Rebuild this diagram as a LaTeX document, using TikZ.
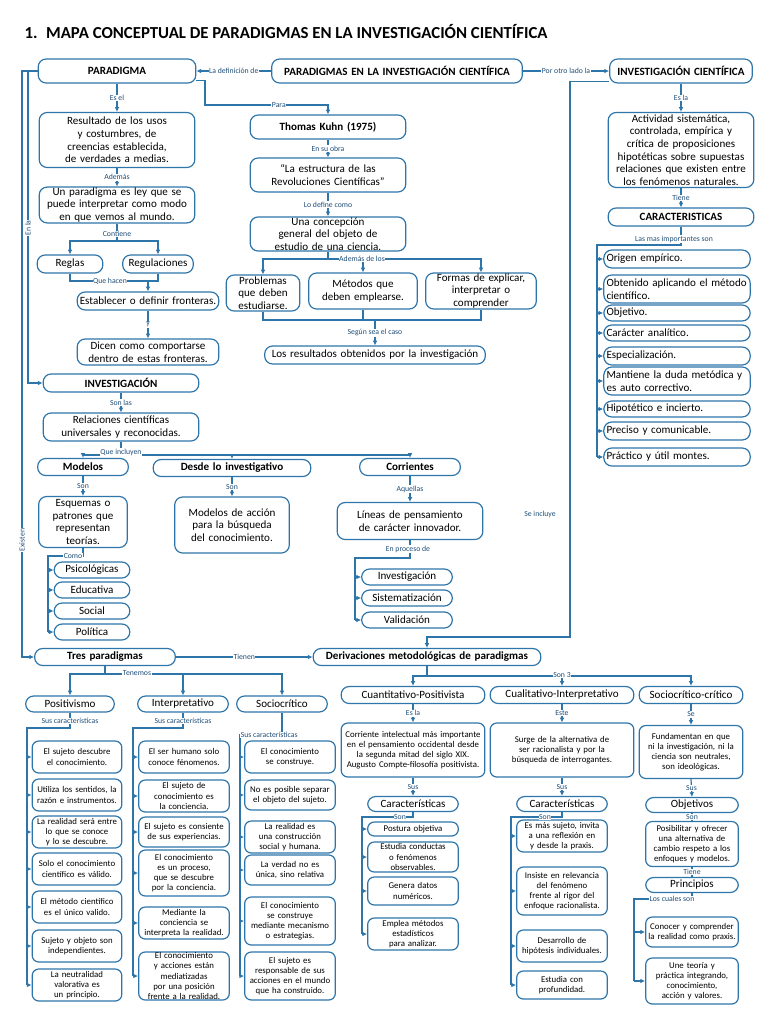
\documentclass[tikz,border=0pt]{standalone}
\usepackage{fontspec}
\setmainfont{Carlito}
\usetikzlibrary{arrows.meta}
\newlength\px \setlength\px{0.75pt}
\definecolor{bl}{RGB}{46,117,170}
\definecolor{lt}{RGB}{31,78,121}
\newcommand\nohy{\hyphenpenalty=10000\exhyphenpenalty=10000\tolerance=9999}
\begin{document}
\begin{tikzpicture}[x=\px,y=-\px,
 b/.style={draw=bl, line width=0.9pt, rounded corners=6pt, align=center, inner xsep=1pt, inner ysep=0.5pt, font=\fontsize{8.3}{9.4}\selectfont\nohy},
 s/.style={b, rounded corners=5pt, font=\fontsize{6.6}{7.6}\selectfont\nohy},
 bb/.style={b, font=\bfseries\fontsize{8.3}{9.4}\selectfont},
 lf/.style={b, align=left, inner xsep=2pt},
 lb/.style={fill=white, inner sep=0.4pt, text=lt, font=\fontsize{5.8}{6.5}\selectfont},
 ar/.style={draw=bl, line width=0.9pt, -{Latex[length=3.5pt,width=3.5pt]}},
 ln/.style={draw=bl, line width=0.9pt}]
\useasboundingbox (0,0) rectangle (768,1024);
\node[anchor=west,font=\bfseries\fontsize{12.6}{14}\selectfont] (title) at (20,32) {1.\enspace MAPA CONCEPTUAL DE PARADIGMAS EN LA INVESTIGACIÓN CIENTÍFICA};
% top row
\node[bb,text width=155\px,minimum height=24\px] (par) at (117,71) {PARADIGMA};
\node[bb,text width=248\px,minimum height=24\px] (main) at (397,71) {PARADIGMAS EN LA INVESTIGACIÓN CIENTÍFICA};
\node[bb,text width=140\px,minimum height=24\px] (ic) at (681,71) {INVESTIGACIÓN CIENTÍFICA};
% Kuhn column
\node[bb,text width=153\px,minimum height=24\px] (kuhn) at (328,127) {Thomas Kuhn (1975)};
\node[b,text width=153\px,minimum height=34\px] (est) at (328,175) {“La estructura de las\\ Revoluciones Científicas”};
\node[b,text width=153\px,minimum height=34\px] (conc) at (328,234) {Una concepción general del objeto de estudio de una ciencia.};
\node[b,text width=71\px,minimum height=36\px] (prob) at (263,293) {Problemas que deben estudiarse.};
\node[b,text width=106\px,minimum height=36\px] (met) at (363,291) {Métodos que deben emplearse.};
\node[b,text width=108\px,minimum height=36\px] (form) at (481,291) {Formas de explicar, interpretar o comprender};
\node[b,text width=218\px,minimum height=18\px] (res) at (375,355) {Los resultados obtenidos por la investigación};
% left column
\node[b,text width=153\px,minimum height=55\px] (r1) at (117,140) {Resultado de los usos y costumbres, de creencias establecida, de verdades a medias.};
\node[b,text width=153\px,minimum height=34\px] (r2) at (117,205) {Un paradigma es ley que se puede interpretar como modo en que vemos al mundo.};
\node[b,text width=63\px,minimum height=18\px] (reg) at (70,264) {Reglas};
\node[b,text width=68\px,minimum height=18\px] (regu) at (158,264) {Regulaciones};
\node[b,text width=139\px,minimum height=18\px] (est2) at (148,301) {Establecer o definir fronteras.};
\node[b,text width=139\px,minimum height=26\px] (dic) at (148,352) {Dicen como comportarse dentro de estas fronteras.};
\node[bb,text width=153\px,minimum height=18\px] (inv) at (121,383) {INVESTIGACIÓN};
\node[b,text width=153\px,minimum height=28\px] (rel) at (121,427) {Relaciones científicas universales y reconocidas.};
\node[bb,text width=88\px,minimum height=17\px] (mod) at (83,467) {Modelos};
\node[bb,text width=155\px,minimum height=17\px] (desde) at (232,468) {Desde lo investigativo};
\node[bb,text width=98\px,minimum height=17\px] (corr) at (410,467) {Corrientes};
\node[b,text width=86\px,minimum height=51\px] (esq) at (83,522) {Esquemas o patrones que representan teorías.};
\node[b,text width=112\px,minimum height=56\px] (mda) at (232,525) {Modelos de acción para la búsqueda del conocimiento.};
\node[b,text width=143\px,minimum height=37\px] (lin) at (410,521) {Líneas de pensamiento de carácter innovador.};
\foreach \n/\t/\y in {psi/Psicológicas/570, edu/Educativa/590, soc/Social/611, pol/Política/632}
  \node[b,text width=73\px,minimum height=16\px] (\n) at (92,\y) {\t};
\foreach \n/\t/\y in {inq/Investigación/577, sis/Sistematización/598, val/Validación/620}
  \node[b,text width=88\px,minimum height=16\px] (\n) at (407,\y) {\t};
% right column
\node[b,text width=143\px,minimum height=75\px] (act) at (681,150) {Actividad sistemática, controlada, empírica y crítica de proposiciones hipotéticas sobre supuestas relaciones que existen entre los fenómenos naturales.};
\node[bb,text width=143\px,minimum height=18\px] (car) at (681,217) {CARACTERISTICAS};
\foreach \n/\t/\y/\h in {c1/Origen empírico./259/18, c2/Obtenido aplicando el método científico./289/28, c3/Objetivo./313/16, c4/Carácter analítico./333/16, c5/Especialización./356/18, c6/Mantiene la duda metódica y es auto correctivo./381/28, c7/Hipotético e incierto./409/16, c8/Preciso y comunicable./431/18, c9/Práctico y útil montes./457/18}
  \node[lf,text width=141\px,minimum height=\h\px] (\n) at (677,\y) {\t};
% bottom
\node[bb,text width=138\px,minimum height=17\px] (tres) at (105,657) {Tres paradigmas};
\node[bb,text width=225\px,minimum height=17\px] (der) at (427,657) {Derivaciones metodológicas de paradigmas};
\node[b,text width=86\px,minimum height=16\px] (pos) at (70,704) {Positivismo};
\node[b,text width=88\px,minimum height=16\px] (int) at (183,704) {Interpretativo};
\node[b,text width=88\px,minimum height=16\px] (soc2) at (282,704) {Sociocrítico};
\foreach \n/\t/\y/\h in {p1/El sujeto descubre el conocimiento./757/32, p2/{Utiliza los sentidos, la razón e instrumentos.}/795/32, p3/La realidad será entre lo que se conoce y lo se descubre./832/32, p4/Solo el conocimiento científico es válido./869/32, p5/El método científico es el único valido./907/32, p6/Sujeto y objeto son independientes./946/32, p7/La neutralidad valorativa es un principio./985/32}
  \node[s,text width=87\px,minimum height=\h\px] (\n) at (77,\y) {\t};
\foreach \n/\t/\y/\h in {i1/El ser humano solo conoce fénomenos./757/32, i2/El sujeto de conocimiento es la conciencia./796/32, i3/El sujeto es consiente de sus experiencias./832/30, i4/{El conocimiento es un proceso, que se descubre por la conciencia.}/873/46, i5/Mediante la conciencia se interpreta la realidad./923/32, i6/El conocimiento y acciones están mediatizadas por una posición frente a la realidad./976/48}
  \node[s,text width=88\px,minimum height=\h\px] (\n) at (184,\y) {\t};
\foreach \n/\t/\y/\h in {s1/El conocimiento se construye./757/32, s2/No es posible separar el objeto del sujeto./795/30, s3/La realidad es una construcción social y humana./837/32, s4/{La verdad no es única, sino relativa}/870/30, s5/El conocimiento se construye mediante mecanismo o estrategias./921/48, s6/El sujeto es responsable de sus acciones en el mundo que ha construido./976/48}
  \node[s,text width=88\px,minimum height=\h\px] (\n) at (290,\y) {\t};
\node[b,text width=141\px,minimum height=17\px] (cuan) at (413,695) {Cuantitativo-Positivista};
\node[b,text width=141\px,minimum height=17\px] (cual) at (562,695) {Cualitativo-Interpretativo};
\node[b,text width=101\px,minimum height=17\px] (scc) at (691,695) {Sociocrítico-crítico};
\node[s,text width=141\px,minimum height=54\px] (cor) at (413,750) {Corriente intelectual más importante en el pensamiento occidental desde la segunda mitad del siglo XIX. Augusto Compte-filosofía positivista.};
\node[s,text width=141\px,minimum height=54\px] (sur) at (562,750) {Surge de la alternativa de ser racionalista y por la búsqueda de interrogantes.};
\node[s,text width=101\px,minimum height=53\px] (fun) at (691,752) {Fundamentan en que ni la investigación, ni la ciencia son neutrales, son ideológicas.};
\node[b,text width=88\px,minimum height=15\px] (car1) at (413,804) {Características};
\node[b,text width=88\px,minimum height=15\px] (car2) at (562,804) {Características};
\node[b,text width=90\px,minimum height=15\px] (obj) at (692,805) {Objetivos};
\foreach \n/\t/\y/\h in {q1/Postura objetiva/829/14, q2/Estudia conductas o fenómenos observables./857/30, q3/Genera datos numéricos./891/28, q4/Emplea métodos estadísticos para analizar./934/32}
  \node[s,text width=88\px,minimum height=\h\px] (\n) at (413,\y) {\t};
\foreach \n/\t/\y/\h in {l1/{Es más sujeto, invita a una reflexión en y desde la praxis.}/836/32, l2/Insiste en relevancia del fenómeno frente al rigor del enfoque racionalista./891/48, l3/Desarrollo de hipótesis individuales./946/32, l4/Estudia con profundidad./985/28}
  \node[s,text width=88\px,minimum height=\h\px] (\n) at (562,\y) {\t};
\node[s,text width=90\px,minimum height=45\px] (pos2) at (692,844) {Posibilitar y ofrecer una alternativa de cambio respeto a los enfoques y modelos.};
\node[b,text width=90\px,minimum height=15\px] (pri) at (692,885) {Principios};
\node[s,text width=90\px,minimum height=30\px] (kn) at (692,932) {Conocer y comprender la realidad como praxis.};
\node[s,text width=90\px,minimum height=46\px] (une) at (692,981) {Une teoría y práctica integrando, conocimiento, acción y valores.};
% coordinates
\coordinate (cP) at (205,105);
\coordinate (cS) at (570,637);
\coordinate (cA) at (28,300);
\coordinate (cB) at (22,500);
\coordinate (j1) at (328,259);
\coordinate (j2) at (375,320);
\coordinate (j3) at (117,241);
\coordinate (j4) at (148,281);
\coordinate (j5) at (121,455);
\coordinate (vC) at (48,556);
\coordinate (vE) at (355,558);
\coordinate (vR) at (597,245);
\coordinate (j6) at (105,674);
\coordinate (vP) at (27,728);
\coordinate (vI) at (133,728);
\coordinate (vS) at (240,735);
\coordinate (j7) at (427,676);
\coordinate (vQ) at (362,817);
\coordinate (vL) at (511,817);
\coordinate (vO) at (634,899);
% connectors
\draw[ar] (main.west) -- node[lb]{La definición de} (par.east);
\draw[ar] (main.east) -- node[lb]{Por otro lado la} (ic.west);
\draw[ar] ([yshift=-7pt]par.east) -| (cP) -| node[lb,pos=0.3]{Para} (kuhn.north);
\draw[ar] (kuhn.south) -- node[lb]{En su obra} (est.north);
\draw[ar] (est.south) -- node[lb]{Lo define como} (conc.north);
\draw[ln] (conc.south) -- (j1);
\draw[ar] (j1) -| (prob.north); \draw[ar] (j1) -| (met.north); \draw[ar] (j1) -| (form.north);
\node[lb] at (362,259) {Además de los};
\draw[ln] (prob.south) |- (form.south |- j2) -- (form.south);
\draw[ln] (met.south) -- (met.south |- j2);
\draw[ar] (j2) -- node[lb]{Según sea el caso} (res.north);
\draw[ar] (par.south) -- node[lb]{Es el} (r1.north);
\draw[ar] (r1.south) -- node[lb]{Además} (r2.north);
\draw[ln] (r2.south) -- node[lb,pos=0.6]{Contiene} (j3);
\draw[ar] (j3) -| (reg.north); \draw[ar] (j3) -| (regu.north);
\draw[ln] (reg.south) |- (regu.south |- j4) -- (regu.south);
\node[lb] at (110,281) {Que hacen};
\draw[ar] (j4) -- (est2.north);
\draw[ar] (est2.south) -- node[lb]{y} (dic.north);
\draw[ar] (par.west) -| (cA) |- (inv.west);
\draw[ar] (par.west) -| (cB) |- (tres.west);
\node[lb,rotate=90] at (28,228) {En la};
\node[lb,rotate=90] at (22,540) {Existen};
\draw[ar] (inv.south) -- node[lb]{Son las} (rel.north);
\draw[ln] (rel.south) -- (j5);
\draw[ar] (j5) -| (mod.north); \draw[ar] (j5) -| (desde.north); \draw[ar] (j5) -| (corr.north);
\node[lb] at (121,452) {Que incluyen};
\draw[ar] (mod.south) -- node[lb]{Son} (esq.north);
\draw[ar] (desde.south) -- node[lb]{Son} (mda.north);
\draw[ar] (corr.south) -- node[lb]{Aquellas} (lin.north);
\draw[ln] (esq.south) |- (vC) -- (vC |- pol.west);
\node[lb,anchor=west] at (63,556) {Como};
\foreach \n in {psi,edu,soc,pol} \draw[ar] (vC |- \n.west) -- (\n.west);
\draw[ln] (lin.south) |- (vE) -- (vE |- val.west);
\node[lb] at (408,549) {En proceso de};
\foreach \n in {inq,sis,val} \draw[ar] (vE |- \n.west) -- (\n.west);
\draw[ar] (ic.south) -- node[lb]{Es la} (act.north);
\draw[ar] (act.south) -- node[lb]{Tiene} (car.north);
\draw[ln] (car.south) |- (vR) -- (vR |- c9.west);
\node[lb] at (674,239) {Las mas importantes son};
\foreach \n in {c1,c2,c3,c4,c5,c6,c7,c8,c9} \draw[ar] (vR |- \n.west) -- (\n.west);
\draw[ar] ([yshift=-8pt]ic.west) -| (cS) -| (der.north);
\node[lb] at (540,514) {Se incluye};
\draw[ar] (tres.east) -- node[lb]{Tienen} (der.west);
\draw[ln] (tres.south) -- (j6);
\draw[ar] (j6) -| (pos.north); \draw[ar] (j6) -| (int.north); \draw[ar] (j6) -| (soc2.north);
\node[lb] at (137,673) {Tenemos};
\draw[ln] (pos.south) |- (vP) -- (vP |- p7.west);
\node[lb] at (70,721) {Sus características};
\foreach \n in {p1,p2,p3,p4,p5,p6,p7} \draw[ar] (vP |- \n.west) -- (\n.west);
\draw[ln] (int.south) |- (vI) -- (vI |- i6.west);
\node[lb] at (183,721) {Sus características};
\foreach \n in {i1,i2,i3,i4,i5,i6} \draw[ar] (vI |- \n.west) -- (\n.west);
\draw[ln] (soc2.south) |- (vS) -- (vS |- s6.west);
\node[lb,anchor=west] at (240,735) {Sus características};
\foreach \n in {s1,s2,s3,s4,s5,s6} \draw[ar] (vS |- \n.west) -- (\n.west);
\draw[ln] (der.south) -- (j7);
\draw[ar] (j7) -| (cuan.north); \draw[ar] (j7) -| (cual.north); \draw[ar] (j7) -| (scc.north);
\node[lb] at (562,675) {Son 3};
\draw[ar] (cuan.south) -- node[lb]{Es la} (cor.north);
\draw[ar] (cual.south) -- node[lb]{Este} (sur.north);
\draw[ar] (scc.south) -- node[lb]{Se} (fun.north);
\draw[ar] (cor.south) -- node[lb]{Sus} (car1.north);
\draw[ar] (sur.south) -- node[lb]{Sus} (car2.north);
\draw[ar] (fun.south) -- node[lb]{Sus} (obj.north);
\draw[ln] (car1.south) |- (vQ) -- (vQ |- q4.west);
\node[lb] at (400,817) {Son};
\foreach \n in {q1,q2,q3,q4} \draw[ar] (vQ |- \n.west) -- (\n.west);
\draw[ln] (car2.south) |- (vL) -- (vL |- l4.west);
\node[lb] at (545,817) {Son};
\foreach \n in {l1,l2,l3,l4} \draw[ar] (vL |- \n.west) -- (\n.west);
\draw[ln] (obj.south) -- node[lb]{Son} (pos2.north);
\draw[ln] (pos2.south) -- node[lb]{Tiene} (pri.north);
\draw[ln] (pri.south) |- (vO) -- (vO |- une.west);
\node[lb] at (672,899) {Los cuales son};
\foreach \n in {kn,une} \draw[ar] (vO |- \n.west) -- (\n.west);
\end{tikzpicture}
\end{document}
